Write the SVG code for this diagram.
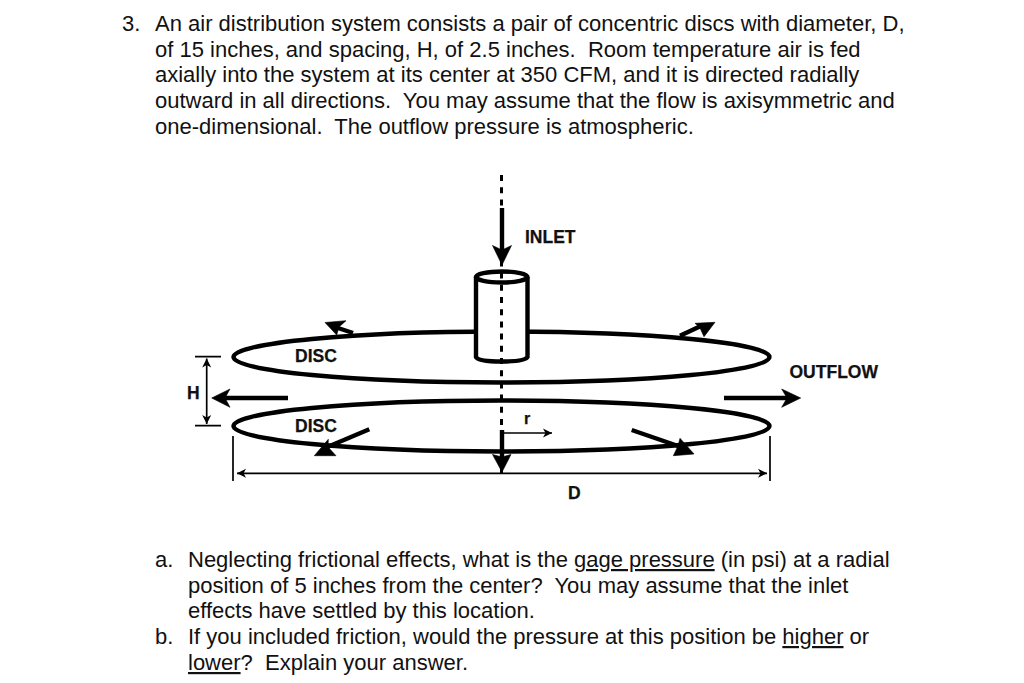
<svg xmlns="http://www.w3.org/2000/svg" width="1024" height="683" viewBox="0 0 1024 683">
<style>
text{font-family:"Liberation Sans",Arial,Helvetica,sans-serif;fill:#111;white-space:pre}
.q{font-size:22px}
.l{font-size:17.5px;font-weight:700;stroke:#111;stroke-width:.25}
.u{text-decoration:underline}
.disc{fill:none;stroke:#000;stroke-width:4.4}
.thick{fill:none;stroke:#000;stroke-width:4.4}
.thin{fill:none;stroke:#000;stroke-width:1.7}
.head{fill:#000;stroke:#000;stroke-width:.6}
</style>
<defs>
<marker id="open" viewBox="0 0 10 10" refX="9" refY="5" markerWidth="10" markerHeight="10" markerUnits="userSpaceOnUse" orient="auto-start-reverse"><path d="M0 0.500L9 5L0 9.500L2.500 5Z" fill="#000"/></marker>
</defs>
<rect width="1024" height="683" fill="#fff"/>
<g id="question">
<text class="q" x="122" y="30.5">3.</text>
<text class="q" x="155" y="30.5">An air distribution system consists a pair of concentric discs with diameter, D,</text>
<text class="q" x="155" y="56.5">of 15 inches, and spacing, H, of 2.5 inches.  Room temperature air is fed</text>
<text class="q" x="155" y="82">axially into the system at its center at 350 CFM, and it is directed radially</text>
<text class="q" x="155" y="108">outward in all directions.  You may assume that the flow is axisymmetric and</text>
<text class="q" x="155" y="134">one-dimensional.  The outflow pressure is atmospheric.</text>
</g>
<g id="top-disc"><ellipse class="disc" cx="501.5" cy="357" rx="268" ry="25.5"/></g>
<g id="bottom-disc"><ellipse class="disc" cx="501.5" cy="426" rx="268" ry="25.5"/></g>
<g id="inlet-tube">
<path d="M476.5 284V357Q477 361 501.5 361Q526 361 528 357V284Z" fill="#fff" stroke="none"/>
<path class="thick" d="M476 277V357Q478 361.500 501.500 361.500Q525 361.500 527.500 357V277"/>
<ellipse class="thick" cx="501.7" cy="277" rx="25.800" ry="5.500" fill="#fff"/>
</g>
<g id="connectors">
<path d="M501.500 175V480" fill="none" stroke="#000" stroke-width="3" stroke-dasharray="6 6.200"/>
<path class="thick" d="M502 208V250"/>
<path class="head" d="M502 265L492.500 245.500L502 250L511.500 245.500Z"/>
<path class="thick" d="M502 430V458"/>
<path class="head" d="M502 472L492.500 454.500L502 457L511 454.500Z"/>
<path class="thick" d="M353 333L332 326"/>
<path class="head" d="M325 322.500L346 320.700L339 327L336.700 335Z"/>
<path class="thick" d="M680 335.700L703 325"/>
<path class="head" d="M715 322.300L695 323.300L700 328L704 336.700Z"/>
<path class="thick" d="M288 398H221"/>
<path class="head" d="M211.700 398L230 389L225 398L230 407.300Z"/>
<path class="thick" d="M724 398H791"/>
<path class="head" d="M800.700 398L781.700 389L787 398L781.700 407.300Z"/>
<path class="thick" d="M369.300 429.300L325 448"/>
<path class="head" d="M314.300 455.700L328.300 439.300L328 447L336 455.700Z"/>
<path class="thick" d="M631.700 430L681 447"/>
<path class="head" d="M694 454L680 438.300L678 446L673.300 455.700Z"/>
<path class="thin" d="M195 356.700H221M195 425.700H221"/>
<path class="thin" d="M206.700 358.500V424" marker-start="url(#open)" marker-end="url(#open)"/>
<path class="thin" d="M233 436V481M770 436V481"/>
<path class="thin" d="M237 473.300H767" marker-start="url(#open)" marker-end="url(#open)"/>
<path class="thin" d="M502 433H552" marker-end="url(#open)"/>
</g>
<g id="labels">
<text class="l" x="295" y="362">DISC</text>
<text class="l" x="295" y="432">DISC</text>
<text class="l" x="525" y="242.500">INLET</text>
<text class="l" x="789.500" y="377.500">OUTFLOW</text>
<text class="l" x="187" y="398.500">H</text>
<text class="l" x="524" y="424" style="font-size:16px">r</text>
<text class="l" x="568" y="498.500">D</text>
</g>
<g id="parts">
<text class="q" x="155" y="567">a.</text>
<text class="q" x="188" y="567">Neglecting frictional effects, what is the <tspan class="u">gage pressure</tspan> (in psi) at a radial</text>
<text class="q" x="188" y="593">position of 5 inches from the center?  You may assume that the inlet</text>
<text class="q" x="188" y="618">effects have settled by this location.</text>
<text class="q" x="155" y="644">b.</text>
<text class="q" x="188" y="644">If you included friction, would the pressure at this position be <tspan class="u">higher</tspan> or</text>
<text class="q" x="188" y="670"><tspan class="u">lower</tspan>?  Explain your answer.</text>
</g>
</svg>
